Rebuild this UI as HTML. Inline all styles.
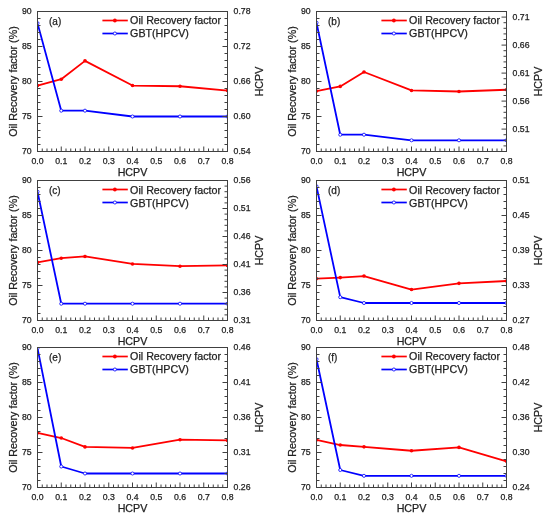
<!DOCTYPE html>
<html><head><meta charset="utf-8"><style>
html,body{margin:0;padding:0;background:#fff;width:550px;height:517px;overflow:hidden}
svg{display:block;will-change:transform}
text{font-family:"Liberation Sans", sans-serif;fill:#222;stroke:#222;stroke-width:0.25px}
</style></head><body>
<svg width="550" height="517" viewBox="0 0 550 517">
<rect width="550" height="517" fill="#fff"/>
<g><clipPath id="ca"><rect x="37.5" y="11.5" width="190" height="140"/></clipPath>
<g clip-path="url(#ca)">
<polyline points="37.50,85.56 61.25,79.19 85.00,60.85 132.50,85.56 180.00,86.26 227.50,90.60" fill="none" stroke="#f00" stroke-width="1.8" stroke-linejoin="round"/>
<circle cx="37.50" cy="85.56" r="1.8" fill="#f00"/>
<circle cx="61.25" cy="79.19" r="1.8" fill="#f00"/>
<circle cx="85.00" cy="60.85" r="1.8" fill="#f00"/>
<circle cx="132.50" cy="85.56" r="1.8" fill="#f00"/>
<circle cx="180.00" cy="86.26" r="1.8" fill="#f00"/>
<circle cx="227.50" cy="90.60" r="1.8" fill="#f00"/>
<polyline points="37.50,23.17 61.25,110.67 85.00,110.67 132.50,116.50 180.00,116.50 227.50,116.50" fill="none" stroke="#00f" stroke-width="1.8" stroke-linejoin="round"/>
<circle cx="37.50" cy="23.17" r="1.55" fill="#fff" stroke="#00f" stroke-width="0.8"/>
<circle cx="61.25" cy="110.67" r="1.55" fill="#fff" stroke="#00f" stroke-width="0.8"/>
<circle cx="85.00" cy="110.67" r="1.55" fill="#fff" stroke="#00f" stroke-width="0.8"/>
<circle cx="132.50" cy="116.50" r="1.55" fill="#fff" stroke="#00f" stroke-width="0.8"/>
<circle cx="180.00" cy="116.50" r="1.55" fill="#fff" stroke="#00f" stroke-width="0.8"/>
<circle cx="227.50" cy="116.50" r="1.55" fill="#fff" stroke="#00f" stroke-width="0.8"/>
</g>
<rect x="37.5" y="11.5" width="190" height="140" fill="none" stroke="#404040" stroke-width="1.0"/>
<path d="M42.25 151.5v-3 M47.00 151.5v-3 M51.75 151.5v-3 M56.50 151.5v-3 M61.25 151.5v-5 M66.00 151.5v-3 M70.75 151.5v-3 M75.50 151.5v-3 M80.25 151.5v-3 M85.00 151.5v-5 M89.75 151.5v-3 M94.50 151.5v-3 M99.25 151.5v-3 M104.00 151.5v-3 M108.75 151.5v-5 M113.50 151.5v-3 M118.25 151.5v-3 M123.00 151.5v-3 M127.75 151.5v-3 M132.50 151.5v-5 M137.25 151.5v-3 M142.00 151.5v-3 M146.75 151.5v-3 M151.50 151.5v-3 M156.25 151.5v-5 M161.00 151.5v-3 M165.75 151.5v-3 M170.50 151.5v-3 M175.25 151.5v-3 M180.00 151.5v-5 M184.75 151.5v-3 M189.50 151.5v-3 M194.25 151.5v-3 M199.00 151.5v-3 M203.75 151.5v-5 M208.50 151.5v-3 M213.25 151.5v-3 M218.00 151.5v-3 M222.75 151.5v-3 M37.5 144.50h3 M37.5 137.50h3 M37.5 130.50h3 M37.5 123.50h3 M37.5 116.50h5 M37.5 109.50h3 M37.5 102.50h3 M37.5 95.50h3 M37.5 88.50h3 M37.5 81.50h5 M37.5 74.50h3 M37.5 67.50h3 M37.5 60.50h3 M37.5 53.50h3 M37.5 46.50h5 M37.5 39.50h3 M37.5 32.50h3 M37.5 25.50h3 M37.5 18.50h3 M227.5 144.50h-3 M227.5 137.50h-3 M227.5 130.50h-3 M227.5 123.50h-3 M227.5 116.50h-5 M227.5 109.50h-3 M227.5 102.50h-3 M227.5 95.50h-3 M227.5 88.50h-3 M227.5 81.50h-5 M227.5 74.50h-3 M227.5 67.50h-3 M227.5 60.50h-3 M227.5 53.50h-3 M227.5 46.50h-5 M227.5 39.50h-3 M227.5 32.50h-3 M227.5 25.50h-3 M227.5 18.50h-3" stroke="#404040" stroke-width="1.0" fill="none"/>
<text x="37.50" y="164.10" font-size="8.7" text-anchor="middle">0.0</text>
<text x="61.25" y="164.10" font-size="8.7" text-anchor="middle">0.1</text>
<text x="85.00" y="164.10" font-size="8.7" text-anchor="middle">0.2</text>
<text x="108.75" y="164.10" font-size="8.7" text-anchor="middle">0.3</text>
<text x="132.50" y="164.10" font-size="8.7" text-anchor="middle">0.4</text>
<text x="156.25" y="164.10" font-size="8.7" text-anchor="middle">0.5</text>
<text x="180.00" y="164.10" font-size="8.7" text-anchor="middle">0.6</text>
<text x="203.75" y="164.10" font-size="8.7" text-anchor="middle">0.7</text>
<text x="227.50" y="164.10" font-size="8.7" text-anchor="middle">0.8</text>
<text x="31.60" y="153.90" font-size="8.7" text-anchor="end">70</text>
<text x="31.60" y="118.90" font-size="8.7" text-anchor="end">75</text>
<text x="31.60" y="83.90" font-size="8.7" text-anchor="end">80</text>
<text x="31.60" y="48.90" font-size="8.7" text-anchor="end">85</text>
<text x="31.60" y="13.90" font-size="8.7" text-anchor="end">90</text>
<text x="233.60" y="153.90" font-size="8.7">0.54</text>
<text x="233.60" y="118.90" font-size="8.7">0.60</text>
<text x="233.60" y="83.90" font-size="8.7">0.66</text>
<text x="233.60" y="48.90" font-size="8.7">0.72</text>
<text x="233.60" y="13.90" font-size="8.7">0.78</text>
<text x="132.50" y="175.90" font-size="10.7" text-anchor="middle">HCPV</text>
<text transform="translate(17.20 81.50) rotate(-90)" font-size="10.7" text-anchor="middle">Oil Recovery factor (%)</text>
<text transform="translate(263.10 81.50) rotate(-90)" font-size="10.7" text-anchor="middle">HCPV</text>
<text x="49.00" y="24.50" font-size="10">(a)</text>
<path d="M102.40 20.50H127.80" stroke="#f00" stroke-width="1.7"/>
<circle cx="114.90" cy="20.50" r="1.9" fill="#f00"/>
<path d="M102.40 33.50H127.80" stroke="#00f" stroke-width="1.7"/>
<circle cx="114.90" cy="33.50" r="1.55" fill="#fff" stroke="#00f" stroke-width="0.8"/>
<text x="130.10" y="24.35" font-size="10.7">Oil Recovery factor</text>
<text x="130.10" y="37.35" font-size="10.7">GBT(HPCV)</text></g>
<g><clipPath id="cb"><rect x="316.5" y="11.5" width="190" height="140"/></clipPath>
<g clip-path="url(#cb)">
<polyline points="316.50,91.09 340.25,86.40 364.00,71.98 411.50,90.46 459.00,91.51 506.50,89.76" fill="none" stroke="#f00" stroke-width="1.8" stroke-linejoin="round"/>
<circle cx="316.50" cy="91.09" r="1.8" fill="#f00"/>
<circle cx="340.25" cy="86.40" r="1.8" fill="#f00"/>
<circle cx="364.00" cy="71.98" r="1.8" fill="#f00"/>
<circle cx="411.50" cy="90.46" r="1.8" fill="#f00"/>
<circle cx="459.00" cy="91.51" r="1.8" fill="#f00"/>
<circle cx="506.50" cy="89.76" r="1.8" fill="#f00"/>
<polyline points="316.50,22.70 340.25,134.70 364.00,134.70 411.50,140.30 459.00,140.30 506.50,140.30" fill="none" stroke="#00f" stroke-width="1.8" stroke-linejoin="round"/>
<circle cx="316.50" cy="22.70" r="1.55" fill="#fff" stroke="#00f" stroke-width="0.8"/>
<circle cx="340.25" cy="134.70" r="1.55" fill="#fff" stroke="#00f" stroke-width="0.8"/>
<circle cx="364.00" cy="134.70" r="1.55" fill="#fff" stroke="#00f" stroke-width="0.8"/>
<circle cx="411.50" cy="140.30" r="1.55" fill="#fff" stroke="#00f" stroke-width="0.8"/>
<circle cx="459.00" cy="140.30" r="1.55" fill="#fff" stroke="#00f" stroke-width="0.8"/>
<circle cx="506.50" cy="140.30" r="1.55" fill="#fff" stroke="#00f" stroke-width="0.8"/>
</g>
<rect x="316.5" y="11.5" width="190" height="140" fill="none" stroke="#404040" stroke-width="1.0"/>
<path d="M321.25 151.5v-3 M326.00 151.5v-3 M330.75 151.5v-3 M335.50 151.5v-3 M340.25 151.5v-5 M345.00 151.5v-3 M349.75 151.5v-3 M354.50 151.5v-3 M359.25 151.5v-3 M364.00 151.5v-5 M368.75 151.5v-3 M373.50 151.5v-3 M378.25 151.5v-3 M383.00 151.5v-3 M387.75 151.5v-5 M392.50 151.5v-3 M397.25 151.5v-3 M402.00 151.5v-3 M406.75 151.5v-3 M411.50 151.5v-5 M416.25 151.5v-3 M421.00 151.5v-3 M425.75 151.5v-3 M430.50 151.5v-3 M435.25 151.5v-5 M440.00 151.5v-3 M444.75 151.5v-3 M449.50 151.5v-3 M454.25 151.5v-3 M459.00 151.5v-5 M463.75 151.5v-3 M468.50 151.5v-3 M473.25 151.5v-3 M478.00 151.5v-3 M482.75 151.5v-5 M487.50 151.5v-3 M492.25 151.5v-3 M497.00 151.5v-3 M501.75 151.5v-3 M316.5 144.50h3 M316.5 137.50h3 M316.5 130.50h3 M316.5 123.50h3 M316.5 116.50h5 M316.5 109.50h3 M316.5 102.50h3 M316.5 95.50h3 M316.5 88.50h3 M316.5 81.50h5 M316.5 74.50h3 M316.5 67.50h3 M316.5 60.50h3 M316.5 53.50h3 M316.5 46.50h5 M316.5 39.50h3 M316.5 32.50h3 M316.5 25.50h3 M316.5 18.50h3 M506.5 145.90h-3 M506.5 140.30h-3 M506.5 134.70h-3 M506.5 129.10h-5 M506.5 123.50h-3 M506.5 117.90h-3 M506.5 112.30h-3 M506.5 106.70h-3 M506.5 101.10h-5 M506.5 95.50h-3 M506.5 89.90h-3 M506.5 84.30h-3 M506.5 78.70h-3 M506.5 73.10h-5 M506.5 67.50h-3 M506.5 61.90h-3 M506.5 56.30h-3 M506.5 50.70h-3 M506.5 45.10h-5 M506.5 39.50h-3 M506.5 33.90h-3 M506.5 28.30h-3 M506.5 22.70h-3 M506.5 17.10h-5" stroke="#404040" stroke-width="1.0" fill="none"/>
<text x="316.50" y="164.10" font-size="8.7" text-anchor="middle">0.0</text>
<text x="340.25" y="164.10" font-size="8.7" text-anchor="middle">0.1</text>
<text x="364.00" y="164.10" font-size="8.7" text-anchor="middle">0.2</text>
<text x="387.75" y="164.10" font-size="8.7" text-anchor="middle">0.3</text>
<text x="411.50" y="164.10" font-size="8.7" text-anchor="middle">0.4</text>
<text x="435.25" y="164.10" font-size="8.7" text-anchor="middle">0.5</text>
<text x="459.00" y="164.10" font-size="8.7" text-anchor="middle">0.6</text>
<text x="482.75" y="164.10" font-size="8.7" text-anchor="middle">0.7</text>
<text x="506.50" y="164.10" font-size="8.7" text-anchor="middle">0.8</text>
<text x="310.60" y="153.90" font-size="8.7" text-anchor="end">70</text>
<text x="310.60" y="118.90" font-size="8.7" text-anchor="end">75</text>
<text x="310.60" y="83.90" font-size="8.7" text-anchor="end">80</text>
<text x="310.60" y="48.90" font-size="8.7" text-anchor="end">85</text>
<text x="310.60" y="13.90" font-size="8.7" text-anchor="end">90</text>
<text x="512.60" y="131.50" font-size="8.7">0.51</text>
<text x="512.60" y="103.50" font-size="8.7">0.56</text>
<text x="512.60" y="75.50" font-size="8.7">0.61</text>
<text x="512.60" y="47.50" font-size="8.7">0.66</text>
<text x="512.60" y="19.50" font-size="8.7">0.71</text>
<text x="411.50" y="175.90" font-size="10.7" text-anchor="middle">HCPV</text>
<text transform="translate(296.20 81.50) rotate(-90)" font-size="10.7" text-anchor="middle">Oil Recovery factor (%)</text>
<text transform="translate(542.10 81.50) rotate(-90)" font-size="10.7" text-anchor="middle">HCPV</text>
<text x="328.00" y="24.50" font-size="10">(b)</text>
<path d="M381.40 20.50H406.80" stroke="#f00" stroke-width="1.7"/>
<circle cx="393.90" cy="20.50" r="1.9" fill="#f00"/>
<path d="M381.40 33.50H406.80" stroke="#00f" stroke-width="1.7"/>
<circle cx="393.90" cy="33.50" r="1.55" fill="#fff" stroke="#00f" stroke-width="0.8"/>
<text x="409.10" y="24.35" font-size="10.7">Oil Recovery factor</text>
<text x="409.10" y="37.35" font-size="10.7">GBT(HPCV)</text></g>
<g><clipPath id="cc"><rect x="37.5" y="180.5" width="190" height="140"/></clipPath>
<g clip-path="url(#cc)">
<polyline points="37.50,262.40 61.25,258.20 85.00,256.45 132.50,263.94 180.00,266.18 227.50,265.41" fill="none" stroke="#f00" stroke-width="1.8" stroke-linejoin="round"/>
<circle cx="37.50" cy="262.40" r="1.8" fill="#f00"/>
<circle cx="61.25" cy="258.20" r="1.8" fill="#f00"/>
<circle cx="85.00" cy="256.45" r="1.8" fill="#f00"/>
<circle cx="132.50" cy="263.94" r="1.8" fill="#f00"/>
<circle cx="180.00" cy="266.18" r="1.8" fill="#f00"/>
<circle cx="227.50" cy="265.41" r="1.8" fill="#f00"/>
<polyline points="37.50,191.70 61.25,303.70 85.00,303.70 132.50,303.70 180.00,303.70 227.50,303.70" fill="none" stroke="#00f" stroke-width="1.8" stroke-linejoin="round"/>
<circle cx="37.50" cy="191.70" r="1.55" fill="#fff" stroke="#00f" stroke-width="0.8"/>
<circle cx="61.25" cy="303.70" r="1.55" fill="#fff" stroke="#00f" stroke-width="0.8"/>
<circle cx="85.00" cy="303.70" r="1.55" fill="#fff" stroke="#00f" stroke-width="0.8"/>
<circle cx="132.50" cy="303.70" r="1.55" fill="#fff" stroke="#00f" stroke-width="0.8"/>
<circle cx="180.00" cy="303.70" r="1.55" fill="#fff" stroke="#00f" stroke-width="0.8"/>
<circle cx="227.50" cy="303.70" r="1.55" fill="#fff" stroke="#00f" stroke-width="0.8"/>
</g>
<rect x="37.5" y="180.5" width="190" height="140" fill="none" stroke="#404040" stroke-width="1.0"/>
<path d="M42.25 320.5v-3 M47.00 320.5v-3 M51.75 320.5v-3 M56.50 320.5v-3 M61.25 320.5v-5 M66.00 320.5v-3 M70.75 320.5v-3 M75.50 320.5v-3 M80.25 320.5v-3 M85.00 320.5v-5 M89.75 320.5v-3 M94.50 320.5v-3 M99.25 320.5v-3 M104.00 320.5v-3 M108.75 320.5v-5 M113.50 320.5v-3 M118.25 320.5v-3 M123.00 320.5v-3 M127.75 320.5v-3 M132.50 320.5v-5 M137.25 320.5v-3 M142.00 320.5v-3 M146.75 320.5v-3 M151.50 320.5v-3 M156.25 320.5v-5 M161.00 320.5v-3 M165.75 320.5v-3 M170.50 320.5v-3 M175.25 320.5v-3 M180.00 320.5v-5 M184.75 320.5v-3 M189.50 320.5v-3 M194.25 320.5v-3 M199.00 320.5v-3 M203.75 320.5v-5 M208.50 320.5v-3 M213.25 320.5v-3 M218.00 320.5v-3 M222.75 320.5v-3 M37.5 313.50h3 M37.5 306.50h3 M37.5 299.50h3 M37.5 292.50h3 M37.5 285.50h5 M37.5 278.50h3 M37.5 271.50h3 M37.5 264.50h3 M37.5 257.50h3 M37.5 250.50h5 M37.5 243.50h3 M37.5 236.50h3 M37.5 229.50h3 M37.5 222.50h3 M37.5 215.50h5 M37.5 208.50h3 M37.5 201.50h3 M37.5 194.50h3 M37.5 187.50h3 M227.5 314.90h-3 M227.5 309.30h-3 M227.5 303.70h-3 M227.5 298.10h-3 M227.5 292.50h-5 M227.5 286.90h-3 M227.5 281.30h-3 M227.5 275.70h-3 M227.5 270.10h-3 M227.5 264.50h-5 M227.5 258.90h-3 M227.5 253.30h-3 M227.5 247.70h-3 M227.5 242.10h-3 M227.5 236.50h-5 M227.5 230.90h-3 M227.5 225.30h-3 M227.5 219.70h-3 M227.5 214.10h-3 M227.5 208.50h-5 M227.5 202.90h-3 M227.5 197.30h-3 M227.5 191.70h-3 M227.5 186.10h-3" stroke="#404040" stroke-width="1.0" fill="none"/>
<text x="37.50" y="333.10" font-size="8.7" text-anchor="middle">0.0</text>
<text x="61.25" y="333.10" font-size="8.7" text-anchor="middle">0.1</text>
<text x="85.00" y="333.10" font-size="8.7" text-anchor="middle">0.2</text>
<text x="108.75" y="333.10" font-size="8.7" text-anchor="middle">0.3</text>
<text x="132.50" y="333.10" font-size="8.7" text-anchor="middle">0.4</text>
<text x="156.25" y="333.10" font-size="8.7" text-anchor="middle">0.5</text>
<text x="180.00" y="333.10" font-size="8.7" text-anchor="middle">0.6</text>
<text x="203.75" y="333.10" font-size="8.7" text-anchor="middle">0.7</text>
<text x="227.50" y="333.10" font-size="8.7" text-anchor="middle">0.8</text>
<text x="31.60" y="322.90" font-size="8.7" text-anchor="end">70</text>
<text x="31.60" y="287.90" font-size="8.7" text-anchor="end">75</text>
<text x="31.60" y="252.90" font-size="8.7" text-anchor="end">80</text>
<text x="31.60" y="217.90" font-size="8.7" text-anchor="end">85</text>
<text x="31.60" y="182.90" font-size="8.7" text-anchor="end">90</text>
<text x="233.60" y="322.90" font-size="8.7">0.31</text>
<text x="233.60" y="294.90" font-size="8.7">0.36</text>
<text x="233.60" y="266.90" font-size="8.7">0.41</text>
<text x="233.60" y="238.90" font-size="8.7">0.46</text>
<text x="233.60" y="210.90" font-size="8.7">0.51</text>
<text x="233.60" y="182.90" font-size="8.7">0.56</text>
<text x="132.50" y="344.90" font-size="10.7" text-anchor="middle">HCPV</text>
<text transform="translate(17.20 250.50) rotate(-90)" font-size="10.7" text-anchor="middle">Oil Recovery factor (%)</text>
<text transform="translate(263.10 250.50) rotate(-90)" font-size="10.7" text-anchor="middle">HCPV</text>
<text x="49.00" y="194.10" font-size="10">(c)</text>
<path d="M102.40 189.50H127.80" stroke="#f00" stroke-width="1.7"/>
<circle cx="114.90" cy="189.50" r="1.9" fill="#f00"/>
<path d="M102.40 202.50H127.80" stroke="#00f" stroke-width="1.7"/>
<circle cx="114.90" cy="202.50" r="1.55" fill="#fff" stroke="#00f" stroke-width="0.8"/>
<text x="130.10" y="193.95" font-size="10.7">Oil Recovery factor</text>
<text x="130.10" y="206.95" font-size="10.7">GBT(HPCV)</text></g>
<g><clipPath id="cd"><rect x="316.5" y="180.5" width="190" height="140"/></clipPath>
<g clip-path="url(#cd)">
<polyline points="316.50,278.71 340.25,277.59 364.00,276.05 411.50,289.56 459.00,283.33 506.50,281.02" fill="none" stroke="#f00" stroke-width="1.8" stroke-linejoin="round"/>
<circle cx="316.50" cy="278.71" r="1.8" fill="#f00"/>
<circle cx="340.25" cy="277.59" r="1.8" fill="#f00"/>
<circle cx="364.00" cy="276.05" r="1.8" fill="#f00"/>
<circle cx="411.50" cy="289.56" r="1.8" fill="#f00"/>
<circle cx="459.00" cy="283.33" r="1.8" fill="#f00"/>
<circle cx="506.50" cy="281.02" r="1.8" fill="#f00"/>
<polyline points="316.50,186.33 340.25,297.17 364.00,303.00 411.50,303.00 459.00,303.00 506.50,303.00" fill="none" stroke="#00f" stroke-width="1.8" stroke-linejoin="round"/>
<circle cx="316.50" cy="186.33" r="1.55" fill="#fff" stroke="#00f" stroke-width="0.8"/>
<circle cx="340.25" cy="297.17" r="1.55" fill="#fff" stroke="#00f" stroke-width="0.8"/>
<circle cx="364.00" cy="303.00" r="1.55" fill="#fff" stroke="#00f" stroke-width="0.8"/>
<circle cx="411.50" cy="303.00" r="1.55" fill="#fff" stroke="#00f" stroke-width="0.8"/>
<circle cx="459.00" cy="303.00" r="1.55" fill="#fff" stroke="#00f" stroke-width="0.8"/>
<circle cx="506.50" cy="303.00" r="1.55" fill="#fff" stroke="#00f" stroke-width="0.8"/>
</g>
<rect x="316.5" y="180.5" width="190" height="140" fill="none" stroke="#404040" stroke-width="1.0"/>
<path d="M321.25 320.5v-3 M326.00 320.5v-3 M330.75 320.5v-3 M335.50 320.5v-3 M340.25 320.5v-5 M345.00 320.5v-3 M349.75 320.5v-3 M354.50 320.5v-3 M359.25 320.5v-3 M364.00 320.5v-5 M368.75 320.5v-3 M373.50 320.5v-3 M378.25 320.5v-3 M383.00 320.5v-3 M387.75 320.5v-5 M392.50 320.5v-3 M397.25 320.5v-3 M402.00 320.5v-3 M406.75 320.5v-3 M411.50 320.5v-5 M416.25 320.5v-3 M421.00 320.5v-3 M425.75 320.5v-3 M430.50 320.5v-3 M435.25 320.5v-5 M440.00 320.5v-3 M444.75 320.5v-3 M449.50 320.5v-3 M454.25 320.5v-3 M459.00 320.5v-5 M463.75 320.5v-3 M468.50 320.5v-3 M473.25 320.5v-3 M478.00 320.5v-3 M482.75 320.5v-5 M487.50 320.5v-3 M492.25 320.5v-3 M497.00 320.5v-3 M501.75 320.5v-3 M316.5 313.50h3 M316.5 306.50h3 M316.5 299.50h3 M316.5 292.50h3 M316.5 285.50h5 M316.5 278.50h3 M316.5 271.50h3 M316.5 264.50h3 M316.5 257.50h3 M316.5 250.50h5 M316.5 243.50h3 M316.5 236.50h3 M316.5 229.50h3 M316.5 222.50h3 M316.5 215.50h5 M316.5 208.50h3 M316.5 201.50h3 M316.5 194.50h3 M316.5 187.50h3 M506.5 313.50h-3 M506.5 306.50h-3 M506.5 299.50h-3 M506.5 292.50h-3 M506.5 285.50h-5 M506.5 278.50h-3 M506.5 271.50h-3 M506.5 264.50h-3 M506.5 257.50h-3 M506.5 250.50h-5 M506.5 243.50h-3 M506.5 236.50h-3 M506.5 229.50h-3 M506.5 222.50h-3 M506.5 215.50h-5 M506.5 208.50h-3 M506.5 201.50h-3 M506.5 194.50h-3 M506.5 187.50h-3" stroke="#404040" stroke-width="1.0" fill="none"/>
<text x="316.50" y="333.10" font-size="8.7" text-anchor="middle">0.0</text>
<text x="340.25" y="333.10" font-size="8.7" text-anchor="middle">0.1</text>
<text x="364.00" y="333.10" font-size="8.7" text-anchor="middle">0.2</text>
<text x="387.75" y="333.10" font-size="8.7" text-anchor="middle">0.3</text>
<text x="411.50" y="333.10" font-size="8.7" text-anchor="middle">0.4</text>
<text x="435.25" y="333.10" font-size="8.7" text-anchor="middle">0.5</text>
<text x="459.00" y="333.10" font-size="8.7" text-anchor="middle">0.6</text>
<text x="482.75" y="333.10" font-size="8.7" text-anchor="middle">0.7</text>
<text x="506.50" y="333.10" font-size="8.7" text-anchor="middle">0.8</text>
<text x="310.60" y="322.90" font-size="8.7" text-anchor="end">70</text>
<text x="310.60" y="287.90" font-size="8.7" text-anchor="end">75</text>
<text x="310.60" y="252.90" font-size="8.7" text-anchor="end">80</text>
<text x="310.60" y="217.90" font-size="8.7" text-anchor="end">85</text>
<text x="310.60" y="182.90" font-size="8.7" text-anchor="end">90</text>
<text x="512.60" y="322.90" font-size="8.7">0.27</text>
<text x="512.60" y="287.90" font-size="8.7">0.33</text>
<text x="512.60" y="252.90" font-size="8.7">0.39</text>
<text x="512.60" y="217.90" font-size="8.7">0.45</text>
<text x="512.60" y="182.90" font-size="8.7">0.51</text>
<text x="411.50" y="344.90" font-size="10.7" text-anchor="middle">HCPV</text>
<text transform="translate(296.20 250.50) rotate(-90)" font-size="10.7" text-anchor="middle">Oil Recovery factor (%)</text>
<text transform="translate(542.10 250.50) rotate(-90)" font-size="10.7" text-anchor="middle">HCPV</text>
<text x="328.00" y="194.10" font-size="10">(d)</text>
<path d="M381.40 189.50H406.80" stroke="#f00" stroke-width="1.7"/>
<circle cx="393.90" cy="189.50" r="1.9" fill="#f00"/>
<path d="M381.40 202.50H406.80" stroke="#00f" stroke-width="1.7"/>
<circle cx="393.90" cy="202.50" r="1.55" fill="#fff" stroke="#00f" stroke-width="0.8"/>
<text x="409.10" y="193.95" font-size="10.7">Oil Recovery factor</text>
<text x="409.10" y="206.95" font-size="10.7">GBT(HPCV)</text></g>
<g><clipPath id="ce"><rect x="37.5" y="347.5" width="190" height="140"/></clipPath>
<g clip-path="url(#ce)">
<polyline points="37.50,432.90 61.25,438.01 85.00,446.90 132.50,447.95 180.00,439.69 227.50,440.46" fill="none" stroke="#f00" stroke-width="1.8" stroke-linejoin="round"/>
<circle cx="37.50" cy="432.90" r="1.8" fill="#f00"/>
<circle cx="61.25" cy="438.01" r="1.8" fill="#f00"/>
<circle cx="85.00" cy="446.90" r="1.8" fill="#f00"/>
<circle cx="132.50" cy="447.95" r="1.8" fill="#f00"/>
<circle cx="180.00" cy="439.69" r="1.8" fill="#f00"/>
<circle cx="227.50" cy="440.46" r="1.8" fill="#f00"/>
<polyline points="37.50,348.20 61.25,466.50 85.00,473.50 132.50,473.50 180.00,473.50 227.50,473.50" fill="none" stroke="#00f" stroke-width="1.8" stroke-linejoin="round"/>
<circle cx="37.50" cy="348.20" r="1.55" fill="#fff" stroke="#00f" stroke-width="0.8"/>
<circle cx="61.25" cy="466.50" r="1.55" fill="#fff" stroke="#00f" stroke-width="0.8"/>
<circle cx="85.00" cy="473.50" r="1.55" fill="#fff" stroke="#00f" stroke-width="0.8"/>
<circle cx="132.50" cy="473.50" r="1.55" fill="#fff" stroke="#00f" stroke-width="0.8"/>
<circle cx="180.00" cy="473.50" r="1.55" fill="#fff" stroke="#00f" stroke-width="0.8"/>
<circle cx="227.50" cy="473.50" r="1.55" fill="#fff" stroke="#00f" stroke-width="0.8"/>
</g>
<rect x="37.5" y="347.5" width="190" height="140" fill="none" stroke="#404040" stroke-width="1.0"/>
<path d="M42.25 487.5v-3 M47.00 487.5v-3 M51.75 487.5v-3 M56.50 487.5v-3 M61.25 487.5v-5 M66.00 487.5v-3 M70.75 487.5v-3 M75.50 487.5v-3 M80.25 487.5v-3 M85.00 487.5v-5 M89.75 487.5v-3 M94.50 487.5v-3 M99.25 487.5v-3 M104.00 487.5v-3 M108.75 487.5v-5 M113.50 487.5v-3 M118.25 487.5v-3 M123.00 487.5v-3 M127.75 487.5v-3 M132.50 487.5v-5 M137.25 487.5v-3 M142.00 487.5v-3 M146.75 487.5v-3 M151.50 487.5v-3 M156.25 487.5v-5 M161.00 487.5v-3 M165.75 487.5v-3 M170.50 487.5v-3 M175.25 487.5v-3 M180.00 487.5v-5 M184.75 487.5v-3 M189.50 487.5v-3 M194.25 487.5v-3 M199.00 487.5v-3 M203.75 487.5v-5 M208.50 487.5v-3 M213.25 487.5v-3 M218.00 487.5v-3 M222.75 487.5v-3 M37.5 480.50h3 M37.5 473.50h3 M37.5 466.50h3 M37.5 459.50h3 M37.5 452.50h5 M37.5 445.50h3 M37.5 438.50h3 M37.5 431.50h3 M37.5 424.50h3 M37.5 417.50h5 M37.5 410.50h3 M37.5 403.50h3 M37.5 396.50h3 M37.5 389.50h3 M37.5 382.50h5 M37.5 375.50h3 M37.5 368.50h3 M37.5 361.50h3 M37.5 354.50h3 M227.5 480.50h-3 M227.5 473.50h-3 M227.5 466.50h-3 M227.5 459.50h-3 M227.5 452.50h-5 M227.5 445.50h-3 M227.5 438.50h-3 M227.5 431.50h-3 M227.5 424.50h-3 M227.5 417.50h-5 M227.5 410.50h-3 M227.5 403.50h-3 M227.5 396.50h-3 M227.5 389.50h-3 M227.5 382.50h-5 M227.5 375.50h-3 M227.5 368.50h-3 M227.5 361.50h-3 M227.5 354.50h-3" stroke="#404040" stroke-width="1.0" fill="none"/>
<text x="37.50" y="500.10" font-size="8.7" text-anchor="middle">0.0</text>
<text x="61.25" y="500.10" font-size="8.7" text-anchor="middle">0.1</text>
<text x="85.00" y="500.10" font-size="8.7" text-anchor="middle">0.2</text>
<text x="108.75" y="500.10" font-size="8.7" text-anchor="middle">0.3</text>
<text x="132.50" y="500.10" font-size="8.7" text-anchor="middle">0.4</text>
<text x="156.25" y="500.10" font-size="8.7" text-anchor="middle">0.5</text>
<text x="180.00" y="500.10" font-size="8.7" text-anchor="middle">0.6</text>
<text x="203.75" y="500.10" font-size="8.7" text-anchor="middle">0.7</text>
<text x="227.50" y="500.10" font-size="8.7" text-anchor="middle">0.8</text>
<text x="31.60" y="489.90" font-size="8.7" text-anchor="end">70</text>
<text x="31.60" y="454.90" font-size="8.7" text-anchor="end">75</text>
<text x="31.60" y="419.90" font-size="8.7" text-anchor="end">80</text>
<text x="31.60" y="384.90" font-size="8.7" text-anchor="end">85</text>
<text x="31.60" y="349.90" font-size="8.7" text-anchor="end">90</text>
<text x="233.60" y="489.90" font-size="8.7">0.26</text>
<text x="233.60" y="454.90" font-size="8.7">0.31</text>
<text x="233.60" y="419.90" font-size="8.7">0.36</text>
<text x="233.60" y="384.90" font-size="8.7">0.41</text>
<text x="233.60" y="349.90" font-size="8.7">0.46</text>
<text x="132.50" y="511.90" font-size="10.7" text-anchor="middle">HCPV</text>
<text transform="translate(17.20 417.50) rotate(-90)" font-size="10.7" text-anchor="middle">Oil Recovery factor (%)</text>
<text transform="translate(263.10 417.50) rotate(-90)" font-size="10.7" text-anchor="middle">HCPV</text>
<text x="49.00" y="360.50" font-size="10">(e)</text>
<path d="M102.40 356.50H127.80" stroke="#f00" stroke-width="1.7"/>
<circle cx="114.90" cy="356.50" r="1.9" fill="#f00"/>
<path d="M102.40 369.50H127.80" stroke="#00f" stroke-width="1.7"/>
<circle cx="114.90" cy="369.50" r="1.55" fill="#fff" stroke="#00f" stroke-width="0.8"/>
<text x="130.10" y="360.35" font-size="10.7">Oil Recovery factor</text>
<text x="130.10" y="373.35" font-size="10.7">GBT(HPCV)</text></g>
<g><clipPath id="cf"><rect x="316.5" y="347.5" width="190" height="140"/></clipPath>
<g clip-path="url(#cf)">
<polyline points="316.50,439.90 340.25,445.01 364.00,446.83 411.50,450.75 459.00,447.39 506.50,461.32" fill="none" stroke="#f00" stroke-width="1.8" stroke-linejoin="round"/>
<circle cx="316.50" cy="439.90" r="1.8" fill="#f00"/>
<circle cx="340.25" cy="445.01" r="1.8" fill="#f00"/>
<circle cx="364.00" cy="446.83" r="1.8" fill="#f00"/>
<circle cx="411.50" cy="450.75" r="1.8" fill="#f00"/>
<circle cx="459.00" cy="447.39" r="1.8" fill="#f00"/>
<circle cx="506.50" cy="461.32" r="1.8" fill="#f00"/>
<polyline points="316.50,359.17 340.25,470.00 364.00,475.83 411.50,475.83 459.00,475.83 506.50,475.83" fill="none" stroke="#00f" stroke-width="1.8" stroke-linejoin="round"/>
<circle cx="316.50" cy="359.17" r="1.55" fill="#fff" stroke="#00f" stroke-width="0.8"/>
<circle cx="340.25" cy="470.00" r="1.55" fill="#fff" stroke="#00f" stroke-width="0.8"/>
<circle cx="364.00" cy="475.83" r="1.55" fill="#fff" stroke="#00f" stroke-width="0.8"/>
<circle cx="411.50" cy="475.83" r="1.55" fill="#fff" stroke="#00f" stroke-width="0.8"/>
<circle cx="459.00" cy="475.83" r="1.55" fill="#fff" stroke="#00f" stroke-width="0.8"/>
<circle cx="506.50" cy="475.83" r="1.55" fill="#fff" stroke="#00f" stroke-width="0.8"/>
</g>
<rect x="316.5" y="347.5" width="190" height="140" fill="none" stroke="#404040" stroke-width="1.0"/>
<path d="M321.25 487.5v-3 M326.00 487.5v-3 M330.75 487.5v-3 M335.50 487.5v-3 M340.25 487.5v-5 M345.00 487.5v-3 M349.75 487.5v-3 M354.50 487.5v-3 M359.25 487.5v-3 M364.00 487.5v-5 M368.75 487.5v-3 M373.50 487.5v-3 M378.25 487.5v-3 M383.00 487.5v-3 M387.75 487.5v-5 M392.50 487.5v-3 M397.25 487.5v-3 M402.00 487.5v-3 M406.75 487.5v-3 M411.50 487.5v-5 M416.25 487.5v-3 M421.00 487.5v-3 M425.75 487.5v-3 M430.50 487.5v-3 M435.25 487.5v-5 M440.00 487.5v-3 M444.75 487.5v-3 M449.50 487.5v-3 M454.25 487.5v-3 M459.00 487.5v-5 M463.75 487.5v-3 M468.50 487.5v-3 M473.25 487.5v-3 M478.00 487.5v-3 M482.75 487.5v-5 M487.50 487.5v-3 M492.25 487.5v-3 M497.00 487.5v-3 M501.75 487.5v-3 M316.5 480.50h3 M316.5 473.50h3 M316.5 466.50h3 M316.5 459.50h3 M316.5 452.50h5 M316.5 445.50h3 M316.5 438.50h3 M316.5 431.50h3 M316.5 424.50h3 M316.5 417.50h5 M316.5 410.50h3 M316.5 403.50h3 M316.5 396.50h3 M316.5 389.50h3 M316.5 382.50h5 M316.5 375.50h3 M316.5 368.50h3 M316.5 361.50h3 M316.5 354.50h3 M506.5 480.50h-3 M506.5 473.50h-3 M506.5 466.50h-3 M506.5 459.50h-3 M506.5 452.50h-5 M506.5 445.50h-3 M506.5 438.50h-3 M506.5 431.50h-3 M506.5 424.50h-3 M506.5 417.50h-5 M506.5 410.50h-3 M506.5 403.50h-3 M506.5 396.50h-3 M506.5 389.50h-3 M506.5 382.50h-5 M506.5 375.50h-3 M506.5 368.50h-3 M506.5 361.50h-3 M506.5 354.50h-3" stroke="#404040" stroke-width="1.0" fill="none"/>
<text x="316.50" y="500.10" font-size="8.7" text-anchor="middle">0.0</text>
<text x="340.25" y="500.10" font-size="8.7" text-anchor="middle">0.1</text>
<text x="364.00" y="500.10" font-size="8.7" text-anchor="middle">0.2</text>
<text x="387.75" y="500.10" font-size="8.7" text-anchor="middle">0.3</text>
<text x="411.50" y="500.10" font-size="8.7" text-anchor="middle">0.4</text>
<text x="435.25" y="500.10" font-size="8.7" text-anchor="middle">0.5</text>
<text x="459.00" y="500.10" font-size="8.7" text-anchor="middle">0.6</text>
<text x="482.75" y="500.10" font-size="8.7" text-anchor="middle">0.7</text>
<text x="506.50" y="500.10" font-size="8.7" text-anchor="middle">0.8</text>
<text x="310.60" y="489.90" font-size="8.7" text-anchor="end">70</text>
<text x="310.60" y="454.90" font-size="8.7" text-anchor="end">75</text>
<text x="310.60" y="419.90" font-size="8.7" text-anchor="end">80</text>
<text x="310.60" y="384.90" font-size="8.7" text-anchor="end">85</text>
<text x="310.60" y="349.90" font-size="8.7" text-anchor="end">90</text>
<text x="512.60" y="489.90" font-size="8.7">0.24</text>
<text x="512.60" y="454.90" font-size="8.7">0.30</text>
<text x="512.60" y="419.90" font-size="8.7">0.36</text>
<text x="512.60" y="384.90" font-size="8.7">0.42</text>
<text x="512.60" y="349.90" font-size="8.7">0.48</text>
<text x="411.50" y="511.90" font-size="10.7" text-anchor="middle">HCPV</text>
<text transform="translate(296.20 417.50) rotate(-90)" font-size="10.7" text-anchor="middle">Oil Recovery factor (%)</text>
<text transform="translate(542.10 417.50) rotate(-90)" font-size="10.7" text-anchor="middle">HCPV</text>
<text x="328.00" y="360.50" font-size="10">(f)</text>
<path d="M381.40 356.50H406.80" stroke="#f00" stroke-width="1.7"/>
<circle cx="393.90" cy="356.50" r="1.9" fill="#f00"/>
<path d="M381.40 369.50H406.80" stroke="#00f" stroke-width="1.7"/>
<circle cx="393.90" cy="369.50" r="1.55" fill="#fff" stroke="#00f" stroke-width="0.8"/>
<text x="409.10" y="360.35" font-size="10.7">Oil Recovery factor</text>
<text x="409.10" y="373.35" font-size="10.7">GBT(HPCV)</text></g>
</svg>
</body></html>
